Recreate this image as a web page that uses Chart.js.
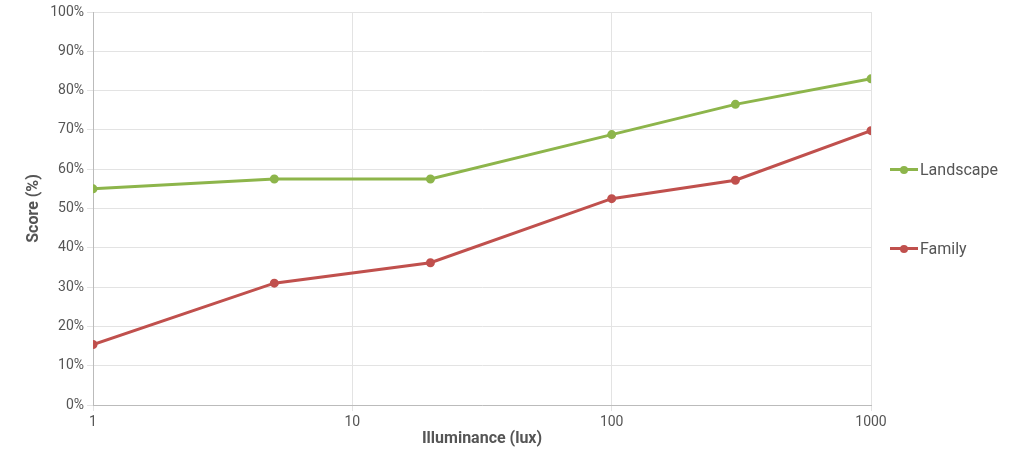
<!DOCTYPE html>
<html>
<head>
<meta charset="utf-8">
<script src="https://cdn.jsdelivr.net/npm/chart.js@4/dist/chart.umd.min.js"></script>
<style>
  html, body { margin: 0; padding: 0; background: #fff; }
  #wrap { position: relative; width: 1024px; height: 457px; }
  .leg { position: absolute; left: 890px; font: 16px Roboto, sans-serif; color: #555; display: flex; align-items: center; }
  .leg .mk { position: relative; width: 28px; height: 3px; margin-right: 2px; }
  .leg .mk i { position: absolute; left: 10px; top: -2.5px; width: 8px; height: 8px; border-radius: 50%; }
</style>
</head>
<body>
<div id="wrap">
  <canvas id="c" width="1024" height="457"></canvas>
  <div class="leg" style="top:160px"><span class="mk" style="background:#8db54b"><i style="background:#8db54b"></i></span>Landscape</div>
  <div class="leg" style="top:239px"><span class="mk" style="background:#c0504d"><i style="background:#c0504d"></i></span>Family</div>
</div>
<script>
const lux = [1, 5, 20, 100, 300, 1000];
const landscape = [55, 57.5, 57.5, 68.8, 76.5, 83];
const family = [15.4, 31, 36.2, 52.5, 57.2, 69.8];
const xTicks = [1, 10, 100, 1000];

const font = { family: 'Roboto, sans-serif', size: 14 };

new Chart(document.getElementById('c'), {
    type: 'line',
    data: {
        datasets: [
            { label: 'Landscape', data: lux.map((x, i) => ({ x, y: landscape[i] })), borderColor: '#8db54b', backgroundColor: '#8db54b', borderWidth: 3, pointRadius: 3, tension: 0 },
            { label: 'Family', data: lux.map((x, i) => ({ x, y: family[i] })), borderColor: '#c0504d', backgroundColor: '#c0504d', borderWidth: 3, pointRadius: 3, tension: 0 }
        ]
    },
    options: {
        responsive: false,
        animation: false,
        layout: { padding: { top: 12, right: 153, left: 20, bottom: 4 } },
        plugins: { legend: { display: false }, tooltip: { enabled: false } },
        scales: {
            x: {
                type: 'logarithmic', min: 1, max: 1000,
                afterBuildTicks: axis => { axis.ticks = xTicks.map(v => ({ value: v })); },
                ticks: { color: '#555', font, callback: v => String(v), maxRotation: 0 },
                grid: { color: '#e3e3e3', drawTicks: true, tickLength: 6 },
                border: { color: '#bbb' },
                title: { display: true, text: 'Illuminance (lux)', color: '#555', font: { family: 'Roboto, sans-serif', size: 16, weight: 'bold' }, padding: { top: -4 } }
            },
            y: {
                min: 0, max: 100,
                ticks: { stepSize: 10, color: '#555', font, callback: v => v + '%' },
                grid: { color: '#e3e3e3', tickLength: 6 },
                border: { color: '#bbb' },
                title: { display: true, text: 'Score (%)', color: '#555', font: { family: 'Roboto, sans-serif', size: 16, weight: 'bold' } }
            }
        }
    }
});
</script>
</body>
</html>
